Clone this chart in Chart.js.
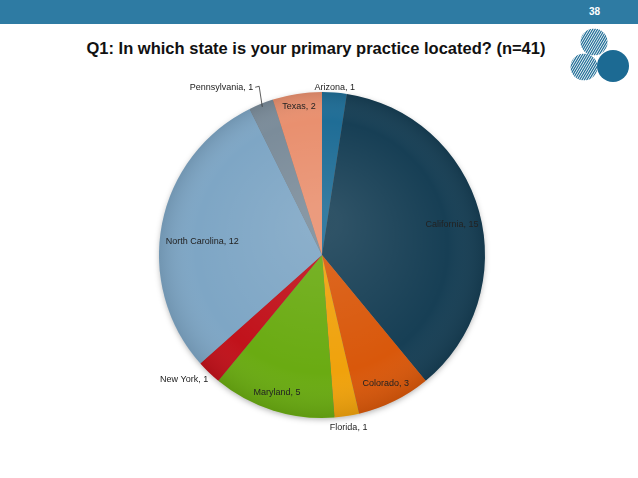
<!DOCTYPE html>
<html>
<head>
<meta charset="utf-8">
<script src="https://cdn.jsdelivr.net/npm/chart.js@4.4.0/dist/chart.umd.min.js"></script>
<style>
  html, body { margin: 0; padding: 0; background: #fff; }
  body { width: 638px; height: 478px; position: relative; overflow: hidden; font-family: "Liberation Sans", Arial, sans-serif; }
  .topbar { position: absolute; left: 0; top: 0; width: 638px; height: 24px; background: #2e7ba3; }
  .pageno { position: absolute; right: 38px; top: 6px; color: #fff; font-size: 10px; font-weight: bold; }
  .title { position: absolute; left: 0; width: 632px; top: 39px; text-align: center; font-size: 16.5px; font-weight: bold; color: #111; }
  #logo { position: absolute; left: 565px; top: 24px; }
  #chartWrap { position: absolute; left: 0; top: 0; width: 638px; height: 478px; }
</style>
</head>
<body>
<div class="topbar"><span class="pageno">38</span></div>
<div class="title">Q1: In which state is your primary practice located? (n=41)</div>
<canvas id="logo" width="70" height="64"></canvas>
<div id="chartWrap"><canvas id="stateChart"></canvas></div>

<script>
// Responses per state (n=41)
const states = ['Arizona', 'California', 'Colorado', 'Florida', 'Maryland', 'New York', 'North Carolina', 'Pennsylvania', 'Texas'];
const counts = [1, 15, 3, 1, 5, 1, 12, 1, 2];
const sliceColors = ['#1f6d96', '#173f55', '#d9580b', '#f0a20c', '#6aab12', '#c1121b', '#7ea6c5', '#7b8c9a', '#e9906f'];

// label placement relative to each slice: [radius factor, angle shift in degrees]
const labelPlacement = [
    [1.03, 0],
    [0.82, 2],
    [0.88, 0],
    [1.07, 0],
    [0.89, 0.5],
    [1.14, 4],
    [0.74, -4.5],
    [1.2, -9],
    [0.92, 0]
];

document.addEventListener('DOMContentLoaded', function() {
    drawLogo();
    initializeStateChart();
});

function drawLogo() {
    const ctx = document.getElementById('logo').getContext('2d');
    const ox = -565, oy = -24;

    // striped circles
    function stripedCircle(cx, cy, r) {
        ctx.save();
        ctx.beginPath();
        ctx.arc(cx + ox, cy + oy, r, 0, Math.PI * 2);
        ctx.clip();
        ctx.strokeStyle = '#1f6d96';
        ctx.lineWidth = 1.3;
        for (let x = -40; x < 40; x += 2.4) {
            ctx.beginPath();
            ctx.moveTo(cx + ox + x - 8, cy + oy + r);
            ctx.lineTo(cx + ox + x + 8, cy + oy - r);
            ctx.stroke();
        }
        ctx.restore();
    }
    stripedCircle(594, 42, 13.5);
    stripedCircle(584, 67, 13.5);

    ctx.beginPath();
    ctx.arc(613 + ox, 66 + oy, 16, 0, Math.PI * 2);
    ctx.fillStyle = '#1c6a93';
    ctx.fill();
}

function initializeStateChart() {
    const canvas = document.getElementById('stateChart');
    if (!canvas) return;

    // soft shadow under the pie
    const shadowPlugin = {
        id: 'pieShadow',
        beforeDatasetsDraw(chart) {
            const arc = chart.getDatasetMeta(0).data[0];
            if (!arc) return;
            const ctx = chart.ctx;
            ctx.save();
            ctx.beginPath();
            ctx.arc(arc.x, arc.y, arc.outerRadius - 1, 0, Math.PI * 2);
            ctx.shadowColor = 'rgba(0,0,0,0.35)';
            ctx.shadowBlur = 6;
            ctx.shadowOffsetY = 2;
            ctx.fillStyle = '#777';
            ctx.fill();
            ctx.restore();
        }
    };

    // slight 3D shading + labels
    const labelPlugin = {
        id: 'sliceLabels',
        afterDatasetsDraw(chart) {
            const meta = chart.getDatasetMeta(0);
            const ctx = chart.ctx;
            const first = meta.data[0];
            const r0 = first.outerRadius;

            ctx.save();
            const g = ctx.createRadialGradient(first.x, first.y - r0 * 0.2, r0 * 0.1, first.x, first.y, r0);
            g.addColorStop(0, 'rgba(255,255,255,0.10)');
            g.addColorStop(0.75, 'rgba(255,255,255,0)');
            g.addColorStop(1, 'rgba(0,0,0,0.10)');
            ctx.beginPath();
            ctx.arc(first.x, first.y, r0, 0, Math.PI * 2);
            ctx.fillStyle = g;
            ctx.fill();
            ctx.restore();

            ctx.save();
            ctx.font = '9px "Liberation Sans", Arial, sans-serif';
            ctx.textAlign = 'center';
            ctx.textBaseline = 'middle';
            meta.data.forEach((arc, i) => {
                const place = labelPlacement[i];
                const mid = (arc.startAngle + arc.endAngle) / 2 + place[1] * Math.PI / 180;
                const r = arc.outerRadius * place[0];
                const x = arc.x + Math.cos(mid) * r;
                const y = arc.y + Math.sin(mid) * r;
                const text = states[i] + ', ' + counts[i];
                ctx.fillStyle = '#222';
                ctx.fillText(text, x, y);

                // leader line for Pennsylvania
                if (states[i] === 'Pennsylvania') {
                    const w = ctx.measureText(text).width;
                    const sliceMid = (arc.startAngle + arc.endAngle) / 2;
                    const ex = arc.x + Math.cos(sliceMid) * arc.outerRadius * 0.98;
                    const ey = arc.y + Math.sin(sliceMid) * arc.outerRadius * 0.98;
                    ctx.strokeStyle = '#333';
                    ctx.lineWidth = 0.8;
                    ctx.beginPath();
                    ctx.moveTo(x + w / 2 + 2, y);
                    ctx.lineTo(x + w / 2 + 6, y - 1);
                    ctx.lineTo(ex, ey);
                    ctx.stroke();
                }
            });
            ctx.restore();
        }
    };

    new Chart(canvas.getContext('2d'), {
        type: 'pie',
        data: {
            labels: states,
            datasets: [{
                data: counts,
                backgroundColor: sliceColors,
                borderWidth: 0
            }]
        },
        options: {
            responsive: true,
            maintainAspectRatio: false,
            animation: false,
            layout: {
                padding: { left: 159, right: 153, top: 92, bottom: 60 }
            },
            plugins: {
                legend: { display: false },
                tooltip: { enabled: false }
            }
        },
        plugins: [shadowPlugin, labelPlugin]
    });
}
</script>
</body>
</html>
